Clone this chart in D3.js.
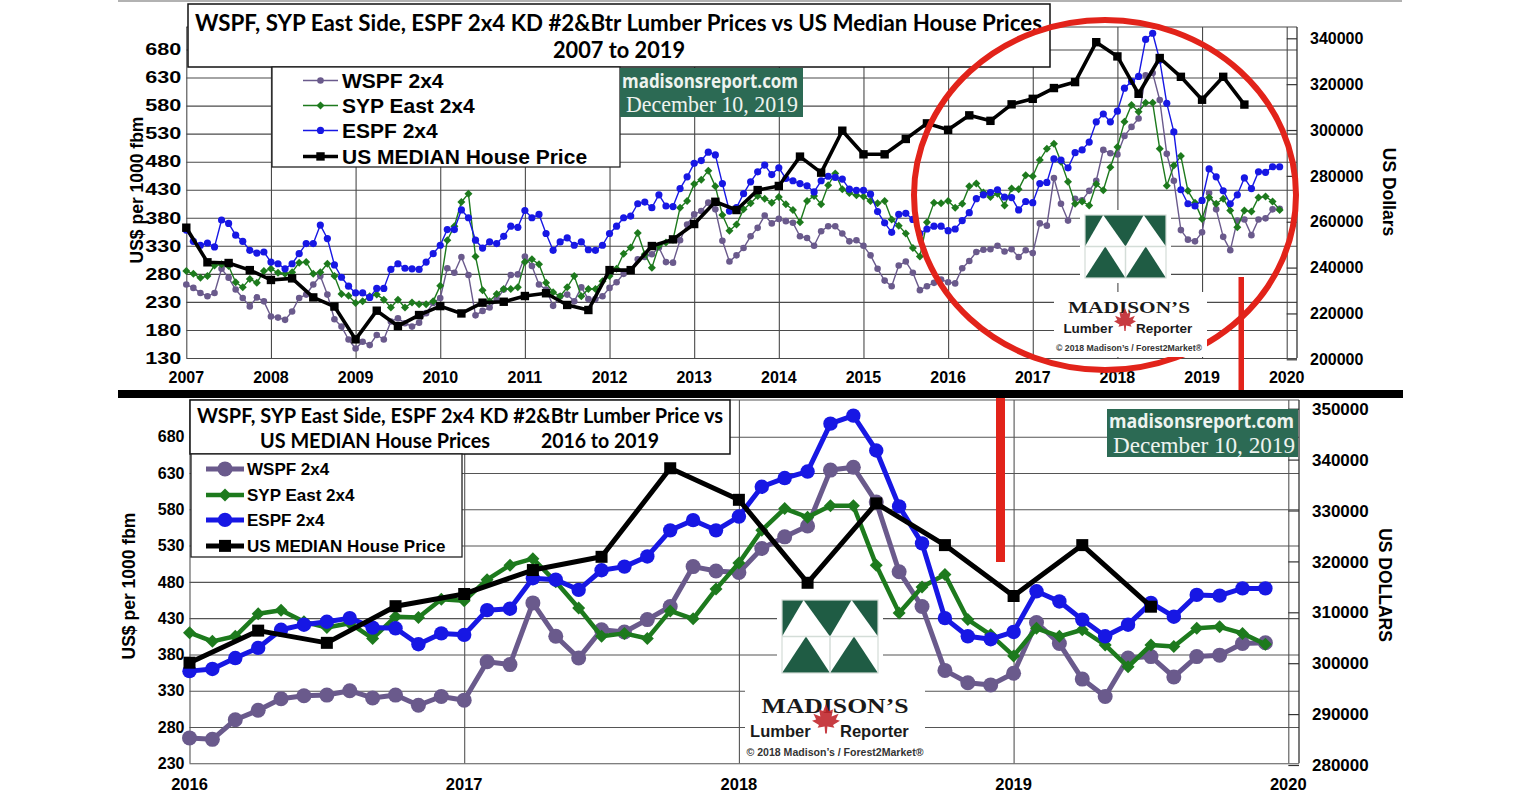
<!DOCTYPE html>
<html>
<head>
<meta charset="utf-8">
<script src="https://cdn.jsdelivr.net/npm/d3@7"></script>
<style>
  body { margin: 0; background: #fff; }
  svg { display: block; }
</style>
</head>
<body>
<svg id="chart" width="1521" height="796"></svg>
<script>
// ---- data ----
// monthly prices, US$ per 1000 fbm, Jan 2007 .. Dec 2019, one row per year
const startYear = 2007;
const wspfMonthly = [
  261, 255, 246, 240, 246, 289, 273, 252, 237, 222, 238, 231,
  204, 202, 198, 213, 237, 243, 261, 276, 243, 199, 186, 163,
  147, 159, 153, 171, 163, 195, 201, 192, 186, 193, 210, 228,
  237, 290, 282, 310, 278, 206, 214, 220, 234, 252, 278, 279,
  311, 294, 261, 252, 223, 240, 243, 231, 256, 235, 235, 240,
  255, 265, 280, 288, 306, 310, 315, 327, 301, 300, 340, 368,
  386, 392, 407, 395, 339, 302, 313, 326, 347, 362, 384, 370,
  378, 374, 371, 347, 344, 330, 356, 365, 365, 352, 338, 340,
  330, 313, 289, 268, 258, 295, 302, 282, 251, 258, 264, 270,
  265, 263, 290, 303, 319, 323, 324, 330, 320, 324, 310, 322,
  317, 370, 366, 451, 405, 375, 414, 411, 428, 446, 501, 495,
  493, 526, 542, 557, 634, 638, 590, 494, 446, 358, 341, 338,
  354, 424, 395, 346, 322, 375, 377, 349, 377, 379, 395, 396
];
const sypMonthly = [
  285, 280, 273, 276, 295, 297, 294, 265, 256, 271, 264, 285,
  289, 282, 280, 283, 300, 301, 280, 283, 298, 276, 244, 241,
  228, 231, 240, 243, 234, 220, 234, 220, 229, 226, 226, 231,
  259, 340, 365, 408, 423, 311, 251, 231, 244, 253, 253, 256,
  301, 306, 297, 264, 247, 240, 256, 276, 240, 253, 253, 267,
  276, 289, 316, 327, 353, 315, 291, 330, 336, 341, 398, 410,
  440, 448, 464, 436, 385, 357, 368, 395, 406, 419, 414, 407,
  417, 404, 394, 372, 410, 419, 404, 438, 459, 431, 424, 420,
  418, 410, 406, 410, 377, 366, 352, 326, 311, 372, 407, 406,
  410, 398, 405, 436, 441, 425, 417, 423, 402, 432, 431, 456,
  454, 483, 503, 512, 480, 444, 405, 409, 402, 440, 429, 470,
  506, 551, 581, 569, 585, 585, 503, 437, 473, 490, 428, 407,
  378, 416, 405, 414, 393, 363, 393, 391, 416, 418, 409, 394
];
const espfMonthly = [
  358, 338, 331, 335, 328, 376, 370, 349, 338, 322, 317, 319,
  301, 298, 289, 298, 316, 334, 334, 367, 343, 296, 274, 258,
  246, 246, 238, 254, 254, 288, 298, 290, 289, 288, 301, 316,
  331, 359, 359, 394, 380, 340, 326, 337, 334, 347, 365, 363,
  393, 380, 386, 352, 322, 337, 344, 331, 337, 323, 322, 331,
  352, 365, 380, 383, 405, 408, 398, 421, 401, 400, 432, 453,
  477, 482, 497, 492, 441, 392, 398, 423, 444, 462, 474, 457,
  469, 450, 446, 441, 437, 426, 446, 454, 452, 449, 431, 429,
  429, 422, 391, 371, 354, 386, 388, 377, 352, 360, 365, 365,
  357, 360, 375, 389, 414, 421, 425, 430, 417, 416, 394, 409,
  407, 441, 443, 485, 483, 469, 496, 501, 515, 551, 565, 551,
  570, 611, 623, 632, 698, 709, 661, 584, 533, 430, 405, 401,
  411, 467, 453, 428, 405, 421, 451, 432, 462, 461, 471, 471
];
// quarterly US median house price, US$, Q1 2007 .. Q3 2019
const housePriceQuarterly = [
  257400, 242300, 242000, 238900,
  234600, 235300, 227000, 223000,
  208700, 221200, 214500, 219300,
  223200, 220000, 224700, 225100,
  227600, 228800, 223700, 221500,
  238900, 238900, 249400, 252300,
  259000, 268700, 265100, 273800,
  275600, 288400, 281400, 299700,
  289400, 289400, 296100, 302900,
  300100, 306400, 304000, 311200,
  313600, 318300, 320900, 338300,
  332100, 315800, 331400, 323200,
  313200, 323200, 311100
];

const seriesNames = ["WSPF 2x4", "SYP East 2x4", "ESPF 2x4", "US MEDIAN House Price"];

const topYearTicks = [2007, 2008, 2009, 2010, 2011, 2012, 2013, 2014, 2015, 2016, 2017, 2018, 2019, 2020];
const topLeftTicks = [130, 180, 230, 280, 330, 380, 430, 480, 530, 580, 630, 680];
const topRightTicks = [200000, 220000, 240000, 260000, 280000, 300000, 320000, 340000];
const bottomYearTicks = [2016, 2017, 2018, 2019, 2020];
const bottomLeftTicks = [230, 280, 330, 380, 430, 480, 530, 580, 630, 680];
const bottomRightTicks = [280000, 290000, 300000, 310000, 320000, 330000, 340000, 350000];

const topTitle = ["WSPF, SYP East Side, ESPF 2x4 KD #2&Btr Lumber Prices vs US Median House Prices", "2007 to 2019"];
const bottomTitle = ["WSPF, SYP East Side, ESPF 2x4 KD #2&Btr Lumber Price vs", "US MEDIAN House Prices", "2016 to 2019"];
const stampText = ["madisonsreport.com", "December 10, 2019"];
const logoText = ["MADISON\u2019S", "Lumber", "Reporter", "\u00a9 2018 Madison\u2019s / Forest2Market\u00ae"];

// ---- helpers ----
const svg = d3.select("#chart");
const SANS = "'Liberation Sans', Arial, sans-serif";
const TITLE_FONT = "Lato, 'Open Sans', sans-serif";
const COLORS = { wspf: "#6a5a8c", syp: "#1d7a1d", espf: "#1717e4", house: "#000" };
const RED = "#e2231a";
const STAMP_GREEN = "#2c6a54";
const LOGO_GREEN = "#1f5c44";

const toMonthly = (vals, from) => vals.map((v, i) => ({ t: startYear + i / 12, v })).filter(d => d.t >= from - 1e-9);
const toQuarterly = (vals, from) => vals.map((v, i) => ({ t: startYear + i / 4, v })).filter(d => d.t >= from - 1e-9);

function markerPath(kind, s) {
    if (kind === "circle") return d3.symbol(d3.symbolCircle, Math.PI * s * s)();
    if (kind === "diamond") return `M0,${-s}L${s},0L0,${s}L${-s},0Z`;
    return `M${-s},${-s}H${s}V${s}H${-s}Z`;
}

function drawSeries(g, pts, x, y, st) {
    g.append("path").datum(pts)
        .attr("fill", "none").attr("stroke", st.color).attr("stroke-width", st.width)
        .attr("stroke-linejoin", "round")
        .attr("d", d3.line().x(d => x(d.t)).y(d => y(d.v)));
    g.append("g").selectAll("path")
        .data(pts).join("path")
        .attr("transform", d => `translate(${x(d.t)},${y(d.v)})`)
        .attr("d", markerPath(st.marker, st.size))
        .attr("fill", st.color);
}

function drawPanel(p) {
    const g = svg.append("g");
    const x = d3.scaleLinear().domain(p.xDomain).range([p.left, p.plotRight]);
    const yL = d3.scaleLinear().domain(p.leftDomain).range(p.leftRange);
    const yR = d3.scaleLinear().domain(p.rightDomain).range(p.rightRange);

    // grid
    g.append("g").attr("transform", `translate(${p.left},0)`)
        .call(d3.axisLeft(yL).tickValues(p.leftTicks).tickSize(-(p.axisRight - p.left)).tickFormat(""))
        .call(a => a.select(".domain").remove())
        .call(a => a.selectAll("line").attr("stroke", p.grid).attr("stroke-width", p.gridWidth));
    g.append("g").attr("transform", `translate(0,${p.bottom})`)
        .call(d3.axisBottom(x).tickValues(p.yearTicks).tickSize(-(p.bottom - p.top)).tickFormat(""))
        .call(a => a.select(".domain").remove())
        .call(a => a.selectAll("line").attr("stroke", p.grid).attr("stroke-width", p.gridWidth));
    g.append("line").attr("x1", p.left).attr("x2", p.axisRight).attr("y1", p.top).attr("y2", p.top)
        .attr("stroke", p.grid).attr("stroke-width", p.gridWidth);

    // right axis line with inward ticks
    g.append("g").attr("transform", `translate(${p.axisRight},0)`)
        .call(d3.axisLeft(yR).tickValues(p.rightTicks).tickSize(p.axisRight - p.plotRight).tickFormat(""))
        .call(a => a.select(".domain").attr("d", `M0,${p.top}V${p.bottom}`).attr("stroke", "#333").attr("stroke-width", 1.3))
        .call(a => a.selectAll("line").attr("stroke", "#333").attr("stroke-width", 1.2));

    // tick labels
    g.append("g").selectAll("text").data(p.leftTicks).join("text")
        .attr("x", p.left - 5).attr("y", d => yL(d)).attr("dy", "0.36em")
        .attr("text-anchor", "end").attr("font-family", SANS).attr("font-weight", "bold")
        .attr("font-size", p.tickFont)
        .attr("textLength", p.leftLabelLen || null).attr("lengthAdjust", "spacingAndGlyphs")
        .text(d => d);
    g.append("g").selectAll("text").data(p.rightTicks).join("text")
        .attr("x", p.axisRight + 13).attr("y", d => yR(d)).attr("dy", "0.36em")
        .attr("font-family", SANS).attr("font-weight", "bold").attr("font-size", p.rightFont)
        .text(d => d);
    g.append("g").selectAll("text").data(p.yearTicks).join("text")
        .attr("x", d => x(d)).attr("y", p.yearY).attr("text-anchor", "middle")
        .attr("font-family", SANS).attr("font-weight", "bold").attr("font-size", p.yearFont)
        .text(d => d);

    // axis titles
    g.append("text").attr("transform", `translate(${p.leftTitleX},${p.leftTitleY}) rotate(-90)`)
        .attr("text-anchor", "middle").attr("dy", "0.35em")
        .attr("font-family", SANS).attr("font-weight", "bold").attr("font-size", p.axisTitleFont)
        .text("US$ per 1000 fbm");
    g.append("text").attr("transform", `translate(${p.rightTitleX},${p.rightTitleY}) rotate(90)`)
        .attr("text-anchor", "middle").attr("dy", "0.35em")
        .attr("font-family", SANS).attr("font-weight", "bold").attr("font-size", p.axisTitleFont)
        .text(p.rightTitle);

    // series
    const from = p.xDomain[0];
    const s = p.styles;
    drawSeries(g, toMonthly(wspfMonthly, from), x, yL, s.wspf);
    drawSeries(g, toMonthly(sypMonthly, from), x, yL, s.syp);
    drawSeries(g, toMonthly(espfMonthly, from), x, yL, s.espf);
    drawSeries(g, toQuarterly(housePriceQuarterly, from), x, yR, s.house);
    return g;
}

function drawLegend(box, st, rows, font) {
    const g = svg.append("g");
    g.append("rect").attr("x", box.x).attr("y", box.y).attr("width", box.w).attr("height", box.h)
        .attr("fill", "#fff").attr("stroke", "#222").attr("stroke-width", 1.3);
    [st.wspf, st.syp, st.espf, st.house].forEach((s, i) => {
        const yb = rows[i];
        const ym = yb - font * 0.36;
        g.append("line").attr("x1", box.lx0).attr("x2", box.lx1).attr("y1", ym).attr("y2", ym)
            .attr("stroke", s.color).attr("stroke-width", s.width);
        g.append("path").attr("transform", `translate(${(box.lx0 + box.lx1) / 2},${ym})`)
            .attr("d", markerPath(s.marker, s.size)).attr("fill", s.color);
        g.append("text").attr("x", box.tx).attr("y", yb)
            .attr("font-family", SANS).attr("font-weight", "bold").attr("font-size", font)
            .text(seriesNames[i]);
    });
}

function drawStamp(b) {
    const g = svg.append("g");
    g.append("rect").attr("x", b.x).attr("y", b.y).attr("width", b.w).attr("height", b.h).attr("fill", STAMP_GREEN);
    g.append("text").attr("x", b.x + 2).attr("y", b.y1)
        .attr("font-family", "'Open Sans', sans-serif").attr("font-weight", "bold").attr("font-size", 19)
        .attr("fill", "#eef3ef").attr("textLength", b.len1).attr("lengthAdjust", "spacingAndGlyphs")
        .text(stampText[0]);
    g.append("text").attr("x", b.x + 6).attr("y", b.y2)
        .attr("font-family", "'Liberation Serif', 'DejaVu Serif', serif").attr("font-size", 23)
        .attr("fill", "#eef3ef").attr("textLength", b.len2).attr("lengthAdjust", "spacingAndGlyphs")
        .text(stampText[1]);
}

function drawLogo(L) {
    const g = svg.append("g");
    // white backing behind the mark and the wordmark
    g.append("rect").attr("x", L.sq.x - 5).attr("y", L.sq.y - 5).attr("width", L.sq.w + 10).attr("height", L.sq.h + 10).attr("fill", "#fff");
    g.append("rect").attr("x", L.txt.x).attr("y", L.txt.y).attr("width", L.txt.w).attr("height", L.txt.h).attr("fill", "#fff");
    // square mark: green top band cut by white peaks, green peaks below
    const { x, y, w, h } = L.sq, cw = w / 2, ch = h / 2;
    g.append("rect").attr("x", x).attr("y", y).attr("width", w).attr("height", ch).attr("fill", LOGO_GREEN);
    [0, 1].forEach(i => {
        const x0 = x + i * cw;
        g.append("path").attr("d", `M${x0},${y + ch}H${x0 + cw}L${x0 + cw * 0.45},${y}Z`).attr("fill", "#fff");
        g.append("path").attr("d", `M${x0},${y + h}H${x0 + cw}L${x0 + cw * 0.5},${y + ch}Z`).attr("fill", LOGO_GREEN);
    });
    g.append("line").attr("x1", x).attr("x2", x + w).attr("y1", y + ch).attr("y2", y + ch).attr("stroke", "#d4ddd8").attr("stroke-width", 1.5);
    g.append("line").attr("x1", x + cw).attr("x2", x + cw).attr("y1", y + ch).attr("y2", y + h).attr("stroke", "#d4ddd8").attr("stroke-width", 1.5);
    g.append("rect").attr("x", x).attr("y", y).attr("width", w).attr("height", h).attr("fill", "none").attr("stroke", "#d4ddd8").attr("stroke-width", 1.2);

    g.append("text").attr("x", L.cx).attr("y", L.y1).attr("text-anchor", "middle")
        .attr("font-family", "'Liberation Serif', serif").attr("font-weight", "bold").attr("font-size", L.f1)
        .attr("textLength", L.len1).attr("lengthAdjust", "spacingAndGlyphs").attr("fill", "#1a1a1a")
        .text(logoText[0]);
    g.append("text").attr("x", L.leafX - L.leafS * 0.55).attr("y", L.y2).attr("text-anchor", "end")
        .attr("font-family", SANS).attr("font-weight", "bold").attr("font-size", L.f2).attr("fill", "#1a1a1a")
        .text(logoText[1]);
    g.append("text").attr("x", L.leafX + L.leafS * 0.5).attr("y", L.y2)
        .attr("font-family", SANS).attr("font-weight", "bold").attr("font-size", L.f2).attr("fill", "#1a1a1a")
        .text(logoText[2]);
    g.append("text").attr("x", L.cx).attr("y", L.y3).attr("text-anchor", "middle")
        .attr("font-family", SANS).attr("font-weight", "bold").attr("font-size", L.f3).attr("fill", "#333")
        .attr("textLength", L.len3).attr("lengthAdjust", "spacingAndGlyphs")
        .text(logoText[3]);
    // maple leaf
    const k = L.leafS / 20;
    g.append("path")
        .attr("transform", `translate(${L.leafX - 10 * k},${L.leafY}) scale(${k})`)
        .attr("d", "M10,0L12,5L15,4L14,9L19,7L17,11L20,12L15,15L16,17L11,16L10.6,21L9.4,21L9,16L4,17L5,15L0,12L3,11L1,7L6,9L5,4L8,5Z")
        .attr("fill", "#c1272d").attr("opacity", 0.9);
}

// ---- frame bits ----
svg.append("rect").attr("width", 1521).attr("height", 796).attr("fill", "#fff");
svg.append("line").attr("x1", 118).attr("x2", 1402).attr("y1", 1).attr("y2", 1).attr("stroke", "#999").attr("stroke-width", 1.5);

// ---- top panel (2007-2019) ----
const topStyles = {
    wspf: { color: COLORS.wspf, width: 1.4, marker: "circle", size: 3.3 },
    syp: { color: COLORS.syp, width: 1.4, marker: "diamond", size: 4 },
    espf: { color: COLORS.espf, width: 1.4, marker: "circle", size: 3.6 },
    house: { color: COLORS.house, width: 3.6, marker: "square", size: 4.2 }
};
drawPanel({
    xDomain: [2007, 2020], left: 186.3, plotRight: 1286.7, axisRight: 1297,
    top: 27, bottom: 358,
    leftDomain: [130, 680], leftRange: [358, 49.5], leftTicks: topLeftTicks,
    rightDomain: [200000, 340000], rightRange: [359.3, 38.3], rightTicks: topRightTicks,
    yearTicks: topYearTicks,
    grid: "#4a4a4a", gridWidth: 1.1,
    tickFont: 16, leftLabelLen: 36, rightFont: 16, yearFont: 16, yearY: 383,
    axisTitleFont: 17.5, leftTitleX: 136.5, leftTitleY: 190, rightTitleX: 1389, rightTitleY: 192,
    rightTitle: "US Dollars",
    styles: topStyles
});

// title box (top)
svg.append("rect").attr("x", 188).attr("y", 4).attr("width", 862).attr("height", 63)
    .attr("fill", "#fff").attr("stroke", "#111").attr("stroke-width", 1.5);
svg.append("text").attr("x", 195).attr("y", 31).attr("font-family", TITLE_FONT).attr("font-weight", "bold")
    .attr("font-size", 22).attr("textLength", 847).attr("lengthAdjust", "spacingAndGlyphs").text(topTitle[0]);
svg.append("text").attr("x", 553).attr("y", 58).attr("font-family", TITLE_FONT).attr("font-weight", "bold")
    .attr("font-size", 22).attr("textLength", 132).attr("lengthAdjust", "spacingAndGlyphs").text(topTitle[1]);

drawLegend({ x: 272, y: 67, w: 348, h: 100, lx0: 303, lx1: 338, tx: 342 }, topStyles, [88, 113, 138, 164], 21);
drawStamp({ x: 620, y: 68, w: 183, h: 49, y1: 88, y2: 111.5, len1: 176, len2: 172 });

// red circle + logo + marker bar
svg.append("ellipse").attr("cx", 1105).attr("cy", 195).attr("rx", 191).attr("ry", 175)
    .attr("fill", "none").attr("stroke", RED).attr("stroke-width", 6);
drawLogo({
    sq: { x: 1085, y: 215, w: 81, h: 63 },
    txt: { x: 1054, y: 292, w: 153, h: 65 },
    cx: 1129, y1: 313, y2: 333, y3: 351, f1: 17, f2: 13.5, f3: 9.5,
    len1: 122, len3: 146, leafX: 1125, leafY: 308, leafS: 22
});
svg.append("rect").attr("x", 1238.5).attr("y", 277).attr("width", 5.5).attr("height", 113).attr("fill", RED);

// separator
svg.append("rect").attr("x", 118).attr("y", 390).attr("width", 1285).attr("height", 8).attr("fill", "#000");

// ---- bottom panel (2016-2019) ----
const bottomStyles = {
    wspf: { color: COLORS.wspf, width: 5, marker: "circle", size: 7.5 },
    syp: { color: COLORS.syp, width: 4.5, marker: "diamond", size: 6.5 },
    espf: { color: COLORS.espf, width: 5, marker: "circle", size: 7.2 },
    house: { color: COLORS.house, width: 5, marker: "square", size: 6 }
};
drawPanel({
    xDomain: [2016, 2020], left: 189.5, plotRight: 1288.3, axisRight: 1299,
    top: 400, bottom: 763.3,
    leftDomain: [230, 680], leftRange: [763.3, 436.7], leftTicks: bottomLeftTicks,
    rightDomain: [280000, 350000], rightRange: [765, 408.7], rightTicks: bottomRightTicks,
    yearTicks: bottomYearTicks,
    grid: "#555", gridWidth: 1.1,
    tickFont: 16, leftLabelLen: null, rightFont: 17, yearFont: 16.5, yearY: 790,
    axisTitleFont: 17.5, leftTitleX: 129, leftTitleY: 586, rightTitleX: 1385, rightTitleY: 585,
    rightTitle: "US DOLLARS",
    styles: bottomStyles
});

// title box (bottom)
svg.append("rect").attr("x", 190).attr("y", 400).attr("width", 540).attr("height", 54)
    .attr("fill", "#fff").attr("stroke", "#111").attr("stroke-width", 1.5);
svg.append("text").attr("x", 197).attr("y", 423).attr("font-family", TITLE_FONT).attr("font-weight", "bold")
    .attr("font-size", 21).attr("textLength", 526).attr("lengthAdjust", "spacingAndGlyphs").text(bottomTitle[0]);
svg.append("text").attr("x", 260).attr("y", 448).attr("font-family", TITLE_FONT).attr("font-weight", "bold")
    .attr("font-size", 21).attr("textLength", 230).attr("lengthAdjust", "spacingAndGlyphs").text(bottomTitle[1]);
svg.append("text").attr("x", 541).attr("y", 448).attr("font-family", TITLE_FONT).attr("font-weight", "bold")
    .attr("font-size", 21).attr("textLength", 118).attr("lengthAdjust", "spacingAndGlyphs").text(bottomTitle[2]);

drawLegend({ x: 191, y: 454, w: 271, h: 103, lx0: 206, lx1: 244, tx: 247 }, bottomStyles, [475, 501, 526, 552], 17);
drawStamp({ x: 1107, y: 409, w: 191, h: 48, y1: 428, y2: 453, len1: 185, len2: 182 });

drawLogo({
    sq: { x: 782, y: 600, w: 96, h: 73 },
    txt: { x: 745, y: 690, w: 180, h: 70 },
    cx: 835, y1: 713, y2: 737, y3: 756, f1: 20, f2: 16.5, f3: 11,
    len1: 147, len3: 177, leafX: 826, leafY: 704, leafS: 28
});
svg.append("rect").attr("x", 996).attr("y", 398).attr("width", 9).attr("height", 164).attr("fill", RED);
</script>
</body>
</html>
